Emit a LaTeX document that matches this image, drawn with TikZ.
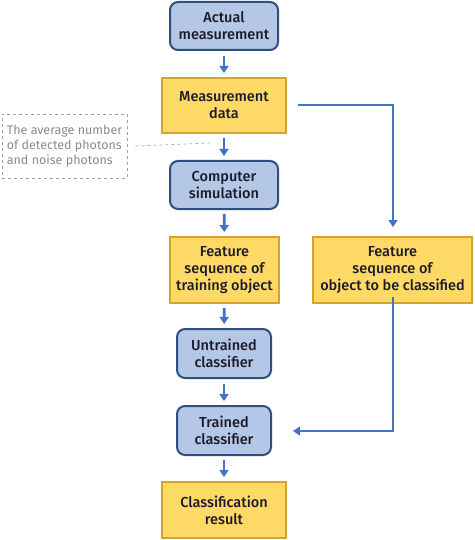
\documentclass[tikz,border=0pt]{standalone}
\usepackage{fontspec}
\setmainfont{Fira Sans}[BoldFont={Fira Sans Medium}]
\usetikzlibrary{arrows.meta,positioning}
\definecolor{bfill}{HTML}{B4C7E7}
\definecolor{bdraw}{HTML}{2F4F7F}
\definecolor{yfill}{HTML}{FFD966}
\definecolor{ydraw}{HTML}{D4A52C}
\definecolor{arr}{HTML}{4472C4}
\definecolor{txt}{HTML}{1A1A2A}
\definecolor{note}{HTML}{8A8A8A}
\tikzset{
  base/.style={align=center, font=\fontsize{14.5}{17}\selectfont\bfseries, text=txt, inner sep=0pt, line width=2pt},
  bluebox/.style={base, rectangle, rounded corners=8pt, fill=bfill, draw=bdraw},
  yellowbox/.style={base, rectangle, fill=yfill, draw=ydraw},
  notebox/.style={rectangle, draw=note!80, dashed, line width=0.8pt, align=left, text=note, font=\fontsize{12.5}{15}\selectfont, inner sep=0pt},
  flow/.style={-{Triangle[length=7pt,width=9pt]}, draw=arr, line width=2.8pt},
  side/.style={draw=arr, line width=2.8pt},
}
\begin{document}
\begin{tikzpicture}[x=1pt,y=-1pt]
\useasboundingbox (0,0) rectangle (474,540);
\node[bluebox, minimum width=108pt, minimum height=48pt] (am) at (224,26) {Actual\\measurement};
\node[yellowbox, minimum width=124pt, minimum height=55pt] (md) at (224,105.5) {Measurement\\data};
\node[bluebox, minimum width=108pt, minimum height=48pt] (cs) at (224,185) {Computer\\simulation};
\node[yellowbox, minimum width=109pt, minimum height=66pt] (ft) at (224.5,270) {Feature\\sequence of\\training object};
\node[yellowbox, minimum width=159pt, minimum height=66pt] (fc) at (392.5,270) {Feature\\sequence of\\object to be classified};
\node[bluebox, minimum width=94pt, minimum height=49pt] (uc) at (224,353.5) {Untrained\\classifier};
\node[bluebox, minimum width=94pt, minimum height=49pt] (tc) at (224,430.5) {Trained\\classifier};
\node[yellowbox, minimum width=124pt, minimum height=56pt] (cr) at (224,510) {Classification\\result};
\node[notebox, minimum width=125pt, minimum height=64pt] (nt) at (64.5,146) {The average number\\of detected photons\\and noise photons};
\coordinate (nl) at (210,143);
\draw[note!70, dashed, line width=0.8pt] ([xshift=8pt]nt.east) -- (nl);
\draw[flow, shorten <=5pt, shorten >=4pt] (am) -- (md);
\draw[flow, shorten <=4pt, shorten >=4pt] (md) -- (cs);
\draw[flow, shorten <=4pt, shorten >=4pt] (cs) -- (ft);
\draw[flow, shorten <=4pt, shorten >=4pt] (ft) -- (uc);
\draw[flow, shorten <=5pt, shorten >=4pt] (uc) -- (tc);
\draw[flow, shorten <=4pt, shorten >=4pt] (tc) -- (cr);
\coordinate (c1) at (393,105);
\coordinate (c2) at (393,431);
\draw[side, -{Triangle[length=7pt,width=9pt]}, shorten >=9pt] ([xshift=11pt]md.east |- c1) -- (c1) -- (fc.north -| c1);
\draw[side, -{Triangle[length=7pt,width=9pt]}, shorten >=21pt] ([yshift=7pt]fc.south -| c1) -- (c2) -- (tc.east |- c2);
\end{tikzpicture}
\end{document}
